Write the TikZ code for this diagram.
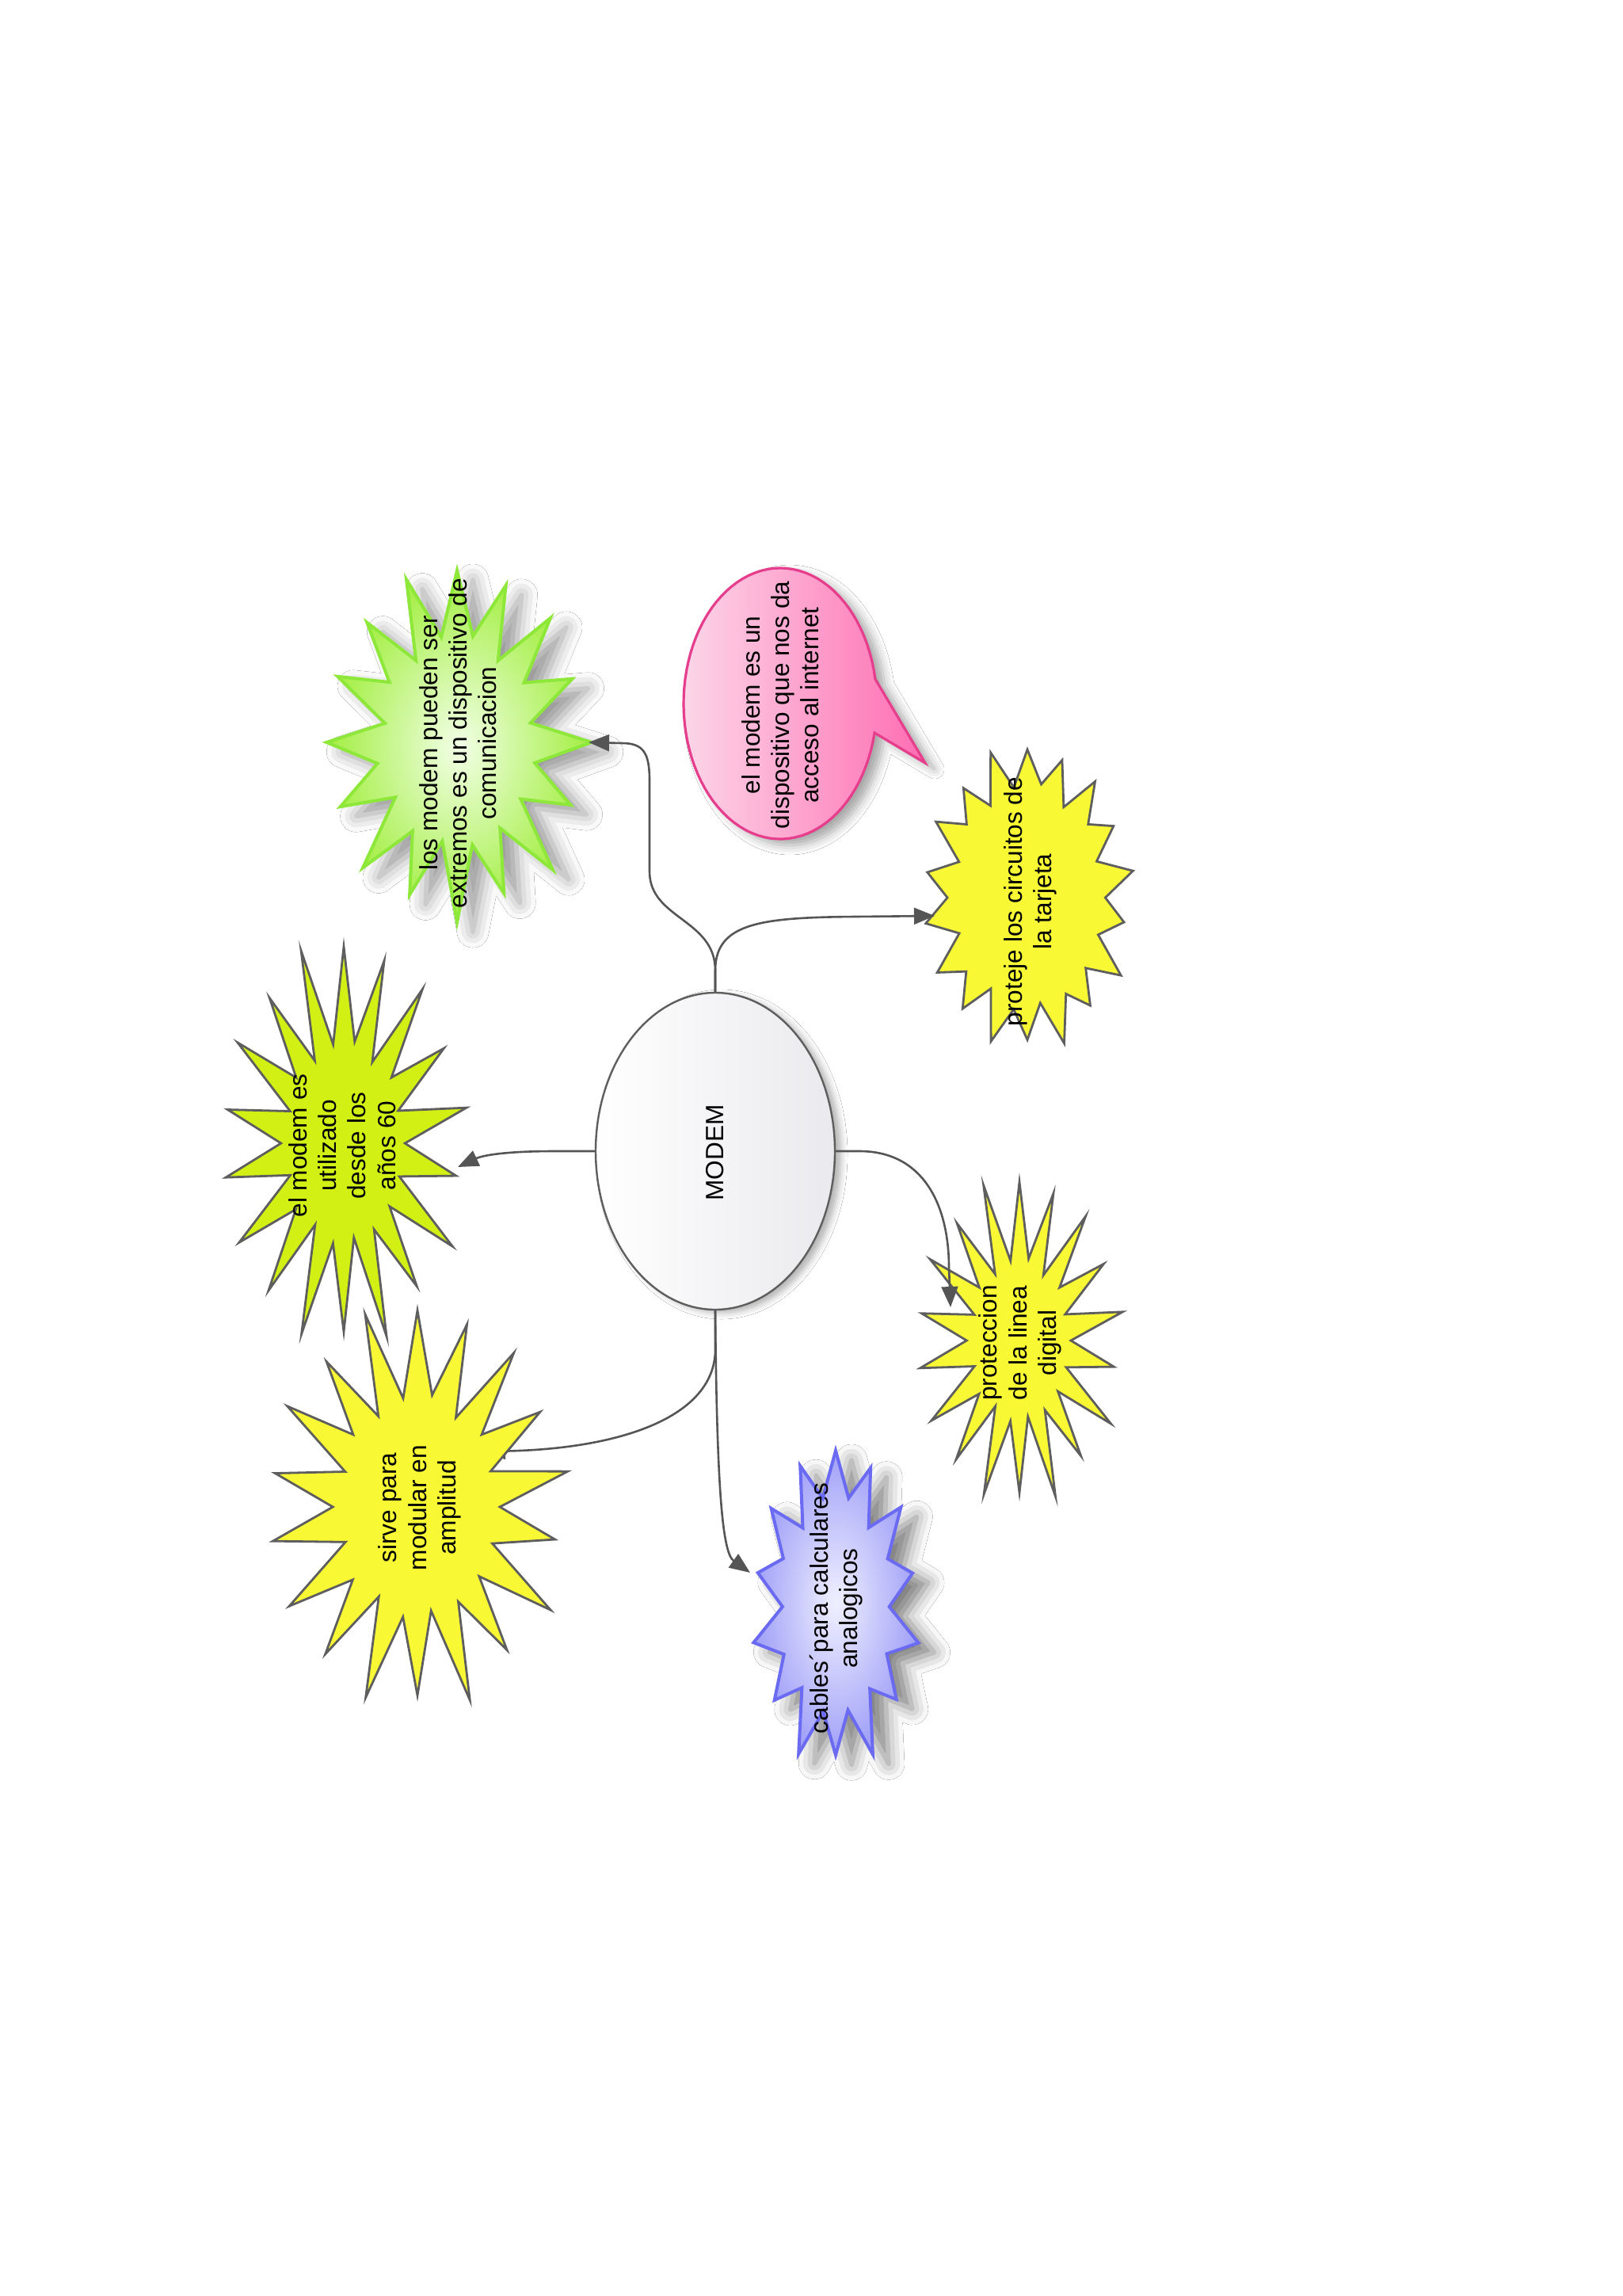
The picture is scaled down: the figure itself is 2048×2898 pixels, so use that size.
\documentclass[tikz,border=0pt]{standalone}
\usepackage{fontspec}
\setmainfont{Liberation Sans}
\usetikzlibrary{arrows.meta,shapes.geometric,shadows.blur}
\definecolor{edgegray}{HTML}{5E5E5E}
\definecolor{lineg}{HTML}{555555}
\definecolor{yel}{HTML}{F8F834}
\definecolor{yelgreen}{HTML}{D3F014}
\definecolor{grnedge}{HTML}{8EE83A}
\definecolor{grnout}{HTML}{A2EE40}
\definecolor{grnin}{HTML}{F2FFE6}
\definecolor{pinkedge}{HTML}{E63D8C}
\definecolor{pinkl}{HTML}{FCD6E8}
\definecolor{pinkr}{HTML}{FF6DB2}
\definecolor{bluedge}{HTML}{6A6AF2}
\definecolor{bluein}{HTML}{F0F0FF}
\definecolor{blueout}{HTML}{A0A0F8}
\definecolor{modemr}{HTML}{EAEAEE}

% #1 options, #2 cx, #3 cy, #4 rx, #5 ry, #6 inner ratio, #7 points, #8 phase
\newcommand\burst[8]{%
  \pgfmathtruncatemacro\burstlast{2*#7-1}%
  \path[#1] plot[variable=\t, samples at={0,...,\burstlast}]
    ({#2+#4*(#6+(1-#6)*mod(\t+1,2))*(1+0.05*sin(\t*97))*cos(\t*180/#7+#8)},
     {#3+#5*(#6+(1-#6)*mod(\t+1,2))*(1+0.05*sin(\t*97))*sin(\t*180/#7+#8)}) -- cycle;
}

\begin{document}
\begin{tikzpicture}[x=0.25pt,y=-0.25pt,
  conn/.style={draw=lineg, line width=0.65pt, -{Triangle[length=6.5pt,width=5.2pt]}},
  lbl/.style={rotate=90, align=center, font=\fontsize{7.9pt}{9.3pt}\selectfont, inner sep=0pt},
  ybox/.style={fill=yel, draw=edgegray, line width=0.7pt, line join=miter},
  gbox/.style={draw=grnedge, line width=1pt, inner color=grnin, outer color=grnout,
    blur shadow={shadow xshift=5pt, shadow yshift=-3pt, shadow blur radius=5pt, shadow opacity=40}},
  bbox/.style={draw=bluedge, line width=1pt, inner color=bluein, outer color=blueout,
    blur shadow={shadow xshift=5pt, shadow yshift=-3pt, shadow blur radius=5pt, shadow opacity=50}},
  pbox/.style={draw=pinkedge, line width=0.8pt, left color=pinkl, right color=pinkr,
    blur shadow={shadow xshift=3pt, shadow yshift=-2pt, shadow blur radius=3pt, shadow opacity=35}}
]
\useasboundingbox (0,0) rectangle (2048,2898);
\fill[white] (0,0) rectangle (2048,2898);

% central node
\node[draw=edgegray, line width=0.6pt, ellipse, minimum width=75.5pt, minimum height=100pt,
  inner sep=0pt, left color=white, right color=modemr,
  blur shadow={shadow xshift=2pt, shadow yshift=-1pt, shadow blur radius=2pt, shadow opacity=30}]
  (modem) at (903,1453) {};
\node[lbl] (modemtext) at (903,1455) {MODEM};

% arrow tips
\coordinate (tip1) at (743,937);
\coordinate (tip3) at (1180,1156);
\coordinate (tip4) at (578,1473);
\coordinate (tip5) at (1200,1650);
\coordinate (tip6) at (612,1832);
\coordinate (tip7) at (947,1985);

% connector whose end is hidden under its star
\draw[conn] (modem.south) -- (903,1705) .. controls (901,1790) and (780,1829) .. (tip6);

% shapes
\burst{gbox}{577}{937}{163}{217}{0.6}{16}{-90}
\path[pbox] plot[variable=\a, domain=12.5:349.6, samples=90]
  ({985+122*cos(\a)}, {888+171*sin(\a)}) -- (1168,963) -- cycle;
\burst{ybox}{1297}{1133}{130}{187}{0.74}{18}{-90}
\burst{ybox, fill=yelgreen}{434}{1443}{151}{248}{0.5}{18}{-90}
\burst{ybox}{1287}{1692}{127}{200}{0.5}{18}{-90}
\burst{ybox}{527}{1902}{185}{248}{0.55}{18}{-90}
\burst{bbox}{1055}{2028}{103}{197}{0.68}{14}{-90}

% labels
\node[lbl] (t1) at (578,938) {los modem pueden ser\\extremos es un dispositivo de\\comunicacion};
\node[lbl] (t2) at (985,890) {el modem es un\\dispositivo que nos da\\acceso al internet};
\node[lbl] (t3) at (1301,1138) {proteje los circuitos de\\la tarjeta};
\node[lbl] (t4) at (432,1446) {el modem es\\utilizado\\desde los\\años 60};
\node[lbl] (t5) at (1288,1695) {proteccion\\de la linea\\digital};
\node[lbl] (t6) at (530,1903) {sirve para\\modular en\\amplitud};
\node[lbl] (t7) at (1056,2030) {cables´para calculares\\analogicos};

% connectors
\draw[conn] (modem.north) -- (903,1225) .. controls (903,1160) and (820,1160) .. (820,1100)
  -- (820,985) .. controls (820,950) and (812,938) .. (785,938) -- (tip1);
\draw[conn] (modem.north) -- (903,1225) .. controls (903,1165) and (960,1158) .. (1080,1157) -- (tip3);
\draw[conn] (modem.west) -- (700,1453) .. controls (640,1453) and (610,1458) .. (tip4);
\draw[conn] (modem.east) -- (1085,1453) .. controls (1165,1453) and (1198,1520) .. (1198,1600) -- (tip5);
\draw[conn] (modem.south) .. controls (905,1880) and (912,1960) .. (tip7);
\end{tikzpicture}
\end{document}
